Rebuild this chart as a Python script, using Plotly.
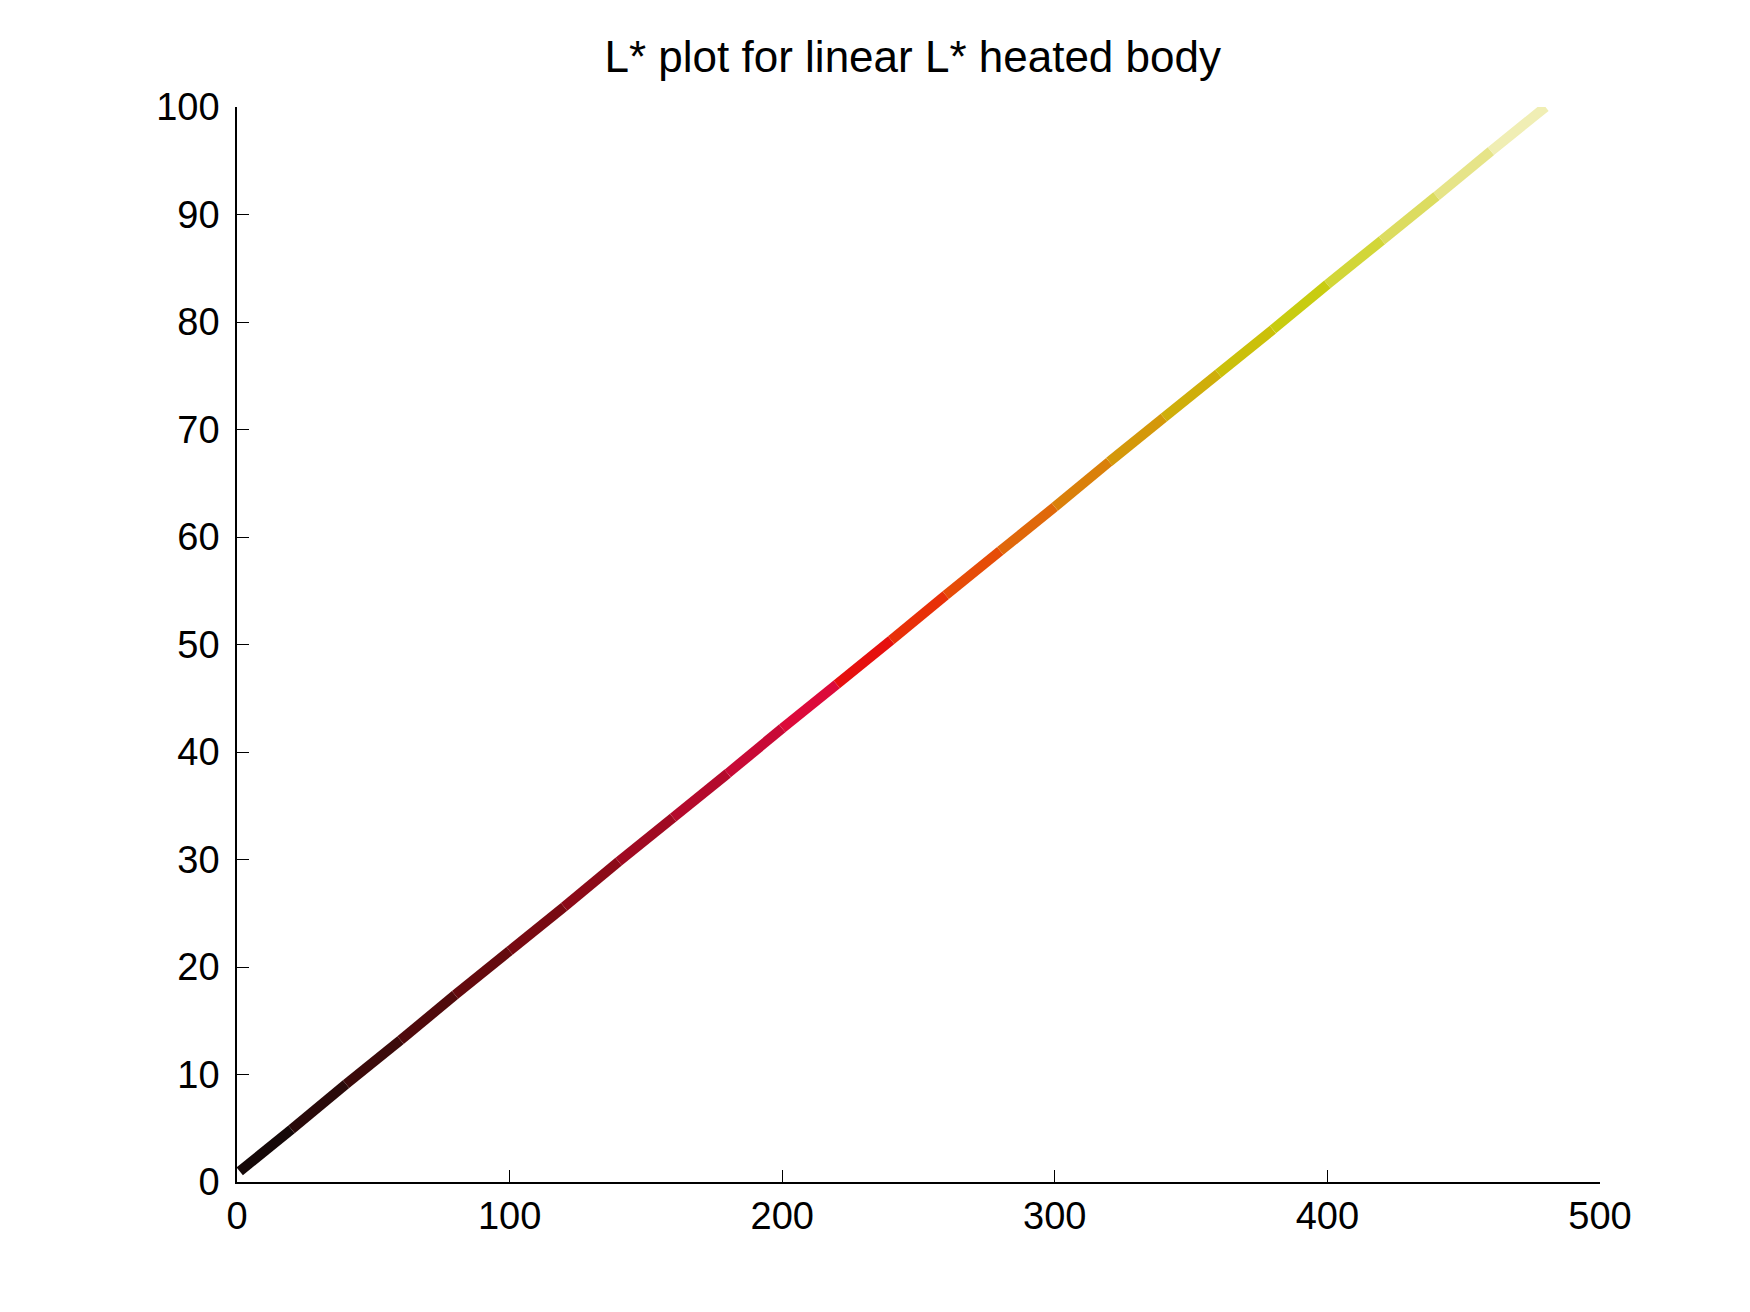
import plotly.graph_objects as go

x_vals = [1, 20, 40, 60, 80, 100, 120, 140, 160, 180, 200, 220, 240, 260, 280, 300, 320, 340, 360, 380, 400, 420, 440, 460, 480]
y_vals = [1.0, 4.9, 9.1, 13.2, 17.4, 21.5, 25.6, 29.8, 33.9, 38.0, 42.2, 46.3, 50.4, 54.6, 58.7, 62.8, 67.0, 71.1, 75.2, 79.3, 83.5, 87.6, 91.7, 95.9, 100.0]
colors = ["#150808", "#2a0a0a", "#3c0a0a", "#500a0c", "#640a0e", "#780a12", "#8c0a18", "#a00a22", "#b40a2c", "#c80a36", "#dc0a3a", "#e6100e", "#e83008", "#e64c08", "#e0680a", "#da800a", "#d4980a", "#cfae0a", "#cbc00a", "#c8cc10", "#d2d638", "#dcdc60", "#e6e488", "#f0eeb4", "#f8f6e2"]

fig = go.Figure()
for i in range(len(x_vals) - 1):
    fig.add_trace(go.Scatter(x=x_vals[i:i+2], y=y_vals[i:i+2], mode="lines",
                             line=dict(color=colors[i], width=10), showlegend=False,
                             hoverinfo="skip"))

font = dict(family="Liberation Sans, Arial", size=38, color="black")
fig.update_layout(
    width=1750, height=1312, paper_bgcolor="white", plot_bgcolor="white",
    margin=dict(l=229, r=158, t=99, b=138),
    title=dict(text="L* plot for linear L* heated body", x=0.517, xanchor="center",
               y=0.963, yanchor="middle", font=dict(family="Liberation Sans, Arial", size=44, color="black")),
    font=font,
)
fig.update_xaxes(range=[0, 500], tickvals=[0, 100, 200, 300, 400, 500], showgrid=False, zeroline=False,
                 showline=True, linecolor="black", linewidth=1.5, ticks="inside", ticklen=12,
                 tickcolor="black", tickfont=font)
fig.update_yaxes(range=[0, 100], tickvals=list(range(0, 101, 10)), showgrid=False, zeroline=False,
                 showline=True, linecolor="black", linewidth=1.5, ticks="inside", ticklen=12,
                 tickcolor="black", tickfont=font, ticklabelstandoff=8)
fig.write_html("out.html")
